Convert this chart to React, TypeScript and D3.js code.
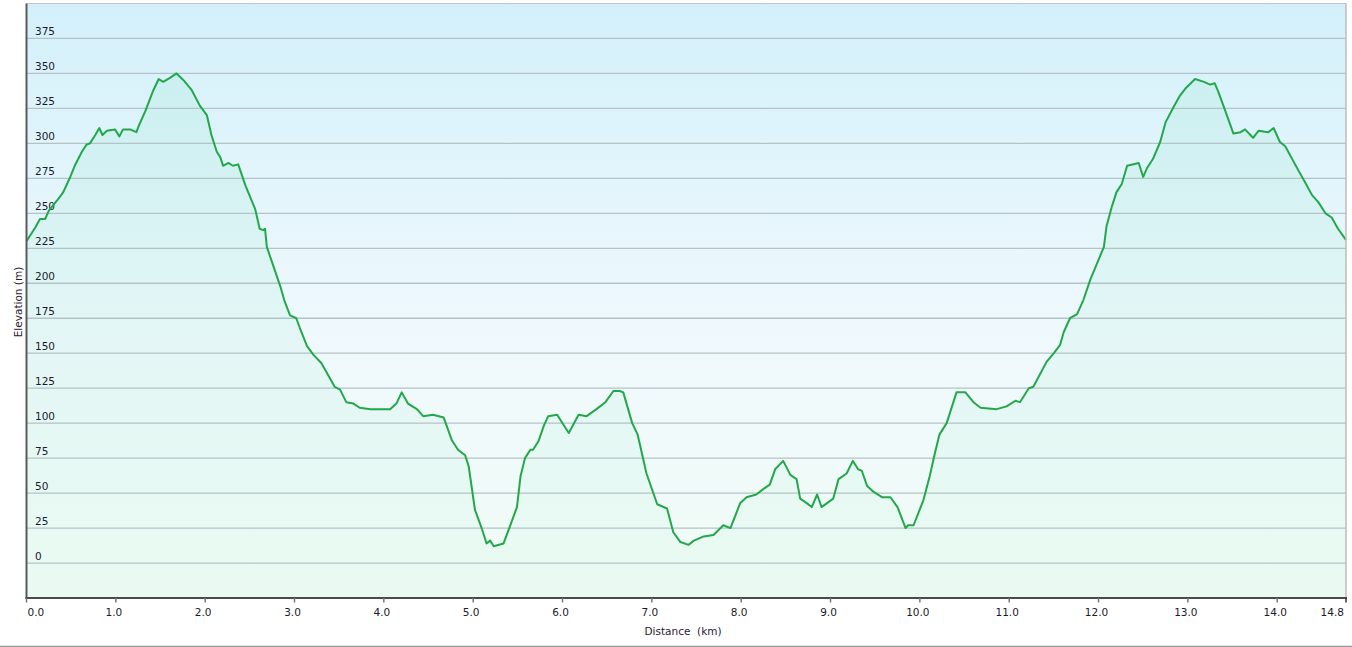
import React from "react";
import * as d3 from "d3";

const distanceKm = [
  0.0, 0.1, 0.15, 0.21, 0.25, 0.34, 0.41, 0.49, 0.54, 0.62, 0.67, 0.71, 0.77, 0.815, 0.85, 0.9, 0.99, 1.04, 1.08, 1.16,
  1.23, 1.26, 1.33, 1.42, 1.48, 1.53, 1.61, 1.68, 1.76, 1.85, 1.94, 2.02, 2.07, 2.13, 2.17, 2.2, 2.26, 2.31, 2.37, 2.45,
  2.56, 2.61, 2.65, 2.67, 2.69, 2.84, 2.89, 2.95, 3.02, 3.06, 3.14, 3.21, 3.3, 3.45, 3.51, 3.58, 3.66, 3.73, 3.85, 4.07,
  4.14, 4.2, 4.27, 4.37, 4.44, 4.55, 4.67, 4.76, 4.83, 4.91, 4.95, 5.02, 5.1, 5.15, 5.19, 5.23, 5.34, 5.41, 5.49, 5.53,
  5.58, 5.64, 5.67, 5.73, 5.79, 5.84, 5.94, 6.07, 6.18, 6.27, 6.38, 6.48, 6.57, 6.64, 6.68, 6.78, 6.84, 6.94, 7.06, 7.17,
  7.24, 7.32, 7.41, 7.47, 7.58, 7.69, 7.8, 7.88, 7.99, 8.06, 8.17, 8.25, 8.32, 8.38, 8.47, 8.55, 8.62, 8.66, 8.73, 8.79,
  8.85, 8.9, 9.03, 9.09, 9.18, 9.25, 9.31, 9.35, 9.41, 9.48, 9.58, 9.67, 9.75, 9.84, 9.87, 9.93, 10.04, 10.11, 10.17, 10.22,
  10.3, 10.41, 10.51, 10.6, 10.68, 10.86, 10.97, 11.07, 11.12, 11.22, 11.27, 11.42, 11.5, 11.57, 11.61, 11.68, 11.76, 11.83, 11.91, 12.06,
  12.09, 12.15, 12.2, 12.26, 12.32, 12.45, 12.5, 12.54, 12.61, 12.69, 12.75, 12.84, 12.91, 12.97, 13.08, 13.18, 13.25, 13.3, 13.34, 13.42,
  13.51, 13.59, 13.64, 13.73, 13.79, 13.9, 13.96, 14.03, 14.09, 14.2, 14.33, 14.39, 14.46, 14.54, 14.61, 14.68, 14.77,
];

const elevationM = [
  230, 240, 246, 246, 252, 259, 265, 276, 284, 294, 299, 300, 306, 311, 306, 309, 310, 305, 310, 310,
  308, 313, 323, 338, 346, 344, 347, 350, 345, 338, 327, 320, 306, 294, 290, 284, 286, 284, 285, 270,
  253, 239, 238, 239, 226, 198, 187, 177, 175, 168, 155, 149, 143, 126, 124, 115, 114, 111, 110, 110,
  114, 122, 114, 110, 105, 106, 104, 88, 81, 77, 69, 38, 24, 14, 16, 12, 14, 26, 40, 62,
  75, 81, 81, 87, 98, 105, 106, 93, 106, 105, 110, 115, 123, 123, 122, 100, 92, 64, 42, 39,
  22, 15, 13, 16, 19, 20, 27, 25, 43, 47, 49, 53, 56, 67, 73, 63, 60, 46, 43, 40,
  49, 40, 46, 60, 64, 73, 67, 66, 55, 51, 47, 47, 40, 25, 27, 27, 45, 62, 79, 92,
  100, 122, 122, 115, 111, 110, 112, 116, 115, 125, 126, 144, 150, 156, 165, 175, 178, 188, 203, 226,
  241, 255, 265, 271, 284, 286, 276, 282, 289, 301, 315, 326, 334, 339, 346, 344, 342, 343, 337, 323,
  307, 308, 310, 304, 309, 308, 311, 301, 298, 285, 270, 263, 258, 250, 247, 239, 231,
];

const yTicks = [0, 25, 50, 75, 100, 125, 150, 175, 200, 225, 250, 275, 300, 325, 350, 375];
const xTicks = [0, 1, 2, 3, 4, 5, 6, 7, 8, 9, 10, 11, 12, 13, 14];
const xEndLabel = "14.8";
const xTitle = "Distance  (km)";
const yTitle = "Elevation (m)";

const W = 1352;
const H = 647;
const L = 26.5;
const R = 1346;
const T = 3.5;
const B = 598;

export default function App() {
  const x = d3.scaleLinear().domain([0, 14.77]).range([L, R]);
  const y = d3.scaleLinear().domain([-25, 400]).range([B, T]);
  const pts = distanceKm.map((d, i) => [d, elevationM[i]] as [number, number]);
  const line = d3
    .line<[number, number]>()
    .x((p) => x(p[0]))
    .y((p) => y(p[1]));
  const area = d3
    .area<[number, number]>()
    .x((p) => x(p[0]))
    .y0(B)
    .y1((p) => y(p[1]));
  const font = "'DejaVu Sans', Verdana, sans-serif";

  return (
    <svg
      width={W}
      height={H}
      style={{ position: "absolute", left: 0, top: 0, background: "#fff" }}
      fontFamily={font}
    >
      <defs>
        <linearGradient id="bg" x1="0" y1="0" x2="0" y2="1">
          <stop offset="0%" stopColor="#d3f0fa" />
          <stop offset="55%" stopColor="#eff9fd" />
          <stop offset="100%" stopColor="#f1fcf6" />
        </linearGradient>
        <linearGradient id="fillG" x1="0" y1="0" x2="0" y2="1">
          <stop offset="0%" stopColor="#3cd08c" stopOpacity={0.09} />
          <stop offset="100%" stopColor="#3cd08c" stopOpacity={0.04} />
        </linearGradient>
      </defs>
      <rect x={L} y={T} width={R - L} height={B - T} fill="url(#bg)" />
      <path d={area(pts) || ""} fill="url(#fillG)" />
      {yTicks.map((v) => (
        <line key={"g" + v} x1={L} x2={R} y1={y(v)} y2={y(v)} stroke="#b3c3c6" strokeWidth={1.3} />
      ))}
      {yTicks.map((v) => (
        <text key={"t" + v} x={35} y={y(v) - 3.5} fontSize={10.5} fill="#1a1a2a">
          {v}
        </text>
      ))}
      <path d={line(pts) || ""} fill="none" stroke="#22a84a" strokeWidth={2} strokeLinejoin="round" />
      <line x1={L} x2={R} y1={T} y2={T} stroke="#c4c4c4" strokeWidth={1} />
      <line x1={R} x2={R} y1={T} y2={B} stroke="#bcbcbc" strokeWidth={1.5} />
      <line x1={L} x2={L} y1={T} y2={B + 1} stroke="#5a5a5a" strokeWidth={2} />
      <line x1={L - 1} x2={R + 1} y1={B} y2={B} stroke="#4a4a4a" strokeWidth={2} />
      {xTicks.map((v) => (
        <line key={"xt" + v} x1={x(v)} x2={x(v)} y1={B} y2={B + 4.5} stroke="#777" strokeWidth={1.5} />
      ))}
      <line x1={R} x2={R} y1={B} y2={B + 4.5} stroke="#333" strokeWidth={1.5} />
      {xTicks.map((v, i) => (
        <text
          key={"xl" + v}
          x={i === 0 ? L + 1 : x(v) - 2}
          y={616}
          fontSize={10.5}
          fill="#1a1a2a"
          textAnchor={i === 0 ? "start" : "middle"}
        >
          {v.toFixed(1)}
        </text>
      ))}
      <text x={R - 2} y={616} fontSize={10.5} fill="#1a1a2a" textAnchor="end">
        {xEndLabel}
      </text>
      <text x={683} y={635} fontSize={10.5} fill="#2a1838" textAnchor="middle" style={{ whiteSpace: "pre" }}>
        {xTitle}
      </text>
      <text
        transform={`translate(21.5, 302) rotate(-90)`}
        fontSize={10.5}
        fill="#2a1838"
        textAnchor="middle"
      >
        {yTitle}
      </text>
      <line x1={0} x2={W} y1={646.5} y2={646.5} stroke="#999" strokeWidth={1.5} />
    </svg>
  );
}
